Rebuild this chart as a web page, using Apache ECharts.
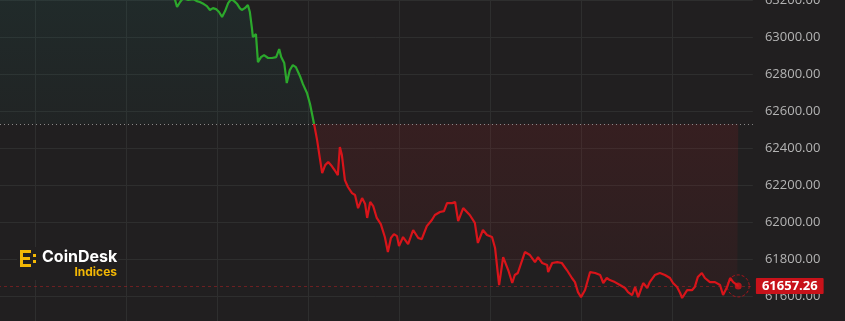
<!DOCTYPE html>
<html>
<head>
<meta charset="utf-8">
<script src="https://cdn.jsdelivr.net/npm/echarts@6/dist/echarts.min.js"></script>
<style>
html,body{margin:0;padding:0;background:#211f20;}
#chart{width:845px;height:321px;}
</style>
</head>
<body>
<div id="chart"></div>
<script>
// minutes since window start (x position of each sample)
const times = [
  110,135,160,185,210,235,260,285,310,335,360,385,410,435,
  451,457,461,467,473,483,493,500,506,514,
  520,526,532,538,544,550,556,562,568,574,
  580,585,589,595,601,605,609,611,617,621,
  627,633,641,649,657,663,667,673,678,684,
  690,696,704,710,718,724,728,732,738,744,
  748,754,760,767,775,779,783,787,793,799,
  807,813,819,827,833,837,843,849,856,864,
  872,878,884,890,896,900,908,918,928,938,
  945,955,965,971,981,989,995,1005,1011,1017,
  1027,1040,1050,1056,1066,1074,1084,1090,1098,1106,
  1116,1124,1129,1135,1149,1159,1169,1175,1183,1193,
  1195,1203,1213,1222,1232,1242,1248,1254,1260,1268,
  1278,1288,1298,1304,1311,1317,1327,1337,1347,1353,
  1361,1367,1373,1383,1391,1396,1406,1416,1426,1436,
  1442,1450,1456,1460,1470,1480,1485,1491,1499,1505,
  1515,1525,1535,1541,1549,1555,1561,1569,1571
];
const prices = [
  63380,63410,63360,63390,63420,63370,63340,63360,63330,63300,63320,63280,63260,63240,
  63227,63200,63162,63189,63210,63200,63205,63194,63189,63178,
  63167,63146,63156,63151,63135,63108,63140,63183,63205,63194,
  63178,63156,63146,63156,63173,63135,63049,63000,63016,62865,
  62892,62903,62887,62887,62892,62935,62892,62860,62752,62822,
  62849,62838,62790,62746,62698,62639,62585,62531,62444,62336,
  62266,62309,62326,62304,62272,62255,62407,62363,62228,62191,
  62158,62148,62077,62131,62099,62024,62110,62088,62024,61991,
  61921,61840,61916,61937,61926,61872,61921,61883,61959,61916,
  61910,61980,62013,62040,62056,62061,62104,62104,62110,62007,
  62077,62040,61997,61889,61959,61932,61921,61862,61662,61813,
  61743,61673,61716,61727,61840,61824,61786,61813,61781,61770,
  61732,61781,61786,61781,61743,61700,61678,61624,61597,61635,
  61732,61727,61716,61673,61700,61689,61678,61662,61646,61624,
  61608,61651,61597,61673,61646,61678,61716,61727,61716,61700,
  61673,61651,61619,61592,61635,61635,61651,61705,61727,61700,
  61678,61678,61662,61608,61651,61700,61678,61662,61657.26
];
const baseline = 62531;          // previous close reference level
const yTicks = [61400, 63200, 200]; // min, max, step

const n = Math.min(times.length, prices.length);
let cross = n - 1;
for (let i = 0; i < n; i++) { if (prices[i] <= baseline) { cross = i; break; } }
const greenLine = [], redLine = [], greenArea = [], redArea = [];
for (let i = 0; i < n; i++) {
  const p = [times[i], prices[i]];
  greenLine.push(i <= cross ? p : [times[i], null]);
  redLine.push(i >= cross ? p : [times[i], null]);
  greenArea.push([times[i], Math.max(prices[i], baseline)]);
  redArea.push([times[i], Math.min(prices[i], baseline)]);
}
const last = [times[n - 1], prices[n - 1]];

const gold = '#f2b705';
const iconRects = [[0,0,3,17],[0,0,11,3],[0,14,11,3],[3,7,7,3],[13,4,3,3],[13,10,3,3]];

const chart = echarts.init(document.getElementById('chart'), null, {renderer: 'canvas'});
chart.setOption({
  backgroundColor: '#211f20',
  animation: false,
  grid: {left: -56, right: 92.1, top: 0, bottom: -12.6, containLabel: false, outerBoundsMode: 'none'},
  xAxis: {
    type: 'value', min: 0, max: 1600, interval: 180,
    axisLabel: {show: false}, axisTick: {show: false}, axisLine: {show: false},
    splitLine: {show: true, showMaxLine: false, lineStyle: {color: '#2e2e2e', width: 1}}
  },
  yAxis: {
    type: 'value', position: 'right', min: yTicks[0], max: yTicks[1], interval: yTicks[2],
    axisLine: {show: false}, axisTick: {show: false},
    axisLabel: {
      color: '#b4b4b4', fontSize: 13, fontFamily: 'Open Sans', margin: 12,
      formatter: v => v.toFixed(2)
    },
    splitLine: {lineStyle: {color: '#2e2e2e', width: 1}}
  },
  series: [
    {
      type: 'line', data: greenArea, showSymbol: false, silent: true, clip: true,
      lineStyle: {width: 0},
      areaStyle: {
        origin: baseline,
        color: new echarts.graphic.LinearGradient(0, 0, 0, 1, [
          {offset: 0, color: 'rgba(30,120,110,0.22)'},
          {offset: 1, color: 'rgba(30,120,110,0.08)'}
        ])
      },
      z: 1
    },
    {
      type: 'line', data: redArea, showSymbol: false, silent: true, clip: true,
      lineStyle: {width: 0},
      areaStyle: {
        origin: baseline,
        color: new echarts.graphic.LinearGradient(0, 0, 0, 1, [
          {offset: 0, color: 'rgba(170,30,35,0.22)'},
          {offset: 1, color: 'rgba(170,30,35,0.10)'}
        ])
      },
      z: 1
    },
    {
      type: 'line', data: greenLine, showSymbol: false, clip: true, connectNulls: false,
      lineStyle: {width: 2.2, color: '#2ca82c'}, itemStyle: {color: '#2ca82c'},
      z: 3
    },
    {
      type: 'line', data: redLine, showSymbol: false, clip: true, connectNulls: false,
      lineStyle: {width: 2.2, color: '#d8141a'}, itemStyle: {color: '#d8141a'},
      z: 3,
      markLine: {
        silent: true, symbol: 'none', animation: false,
        data: [
          {
            yAxis: baseline,
            lineStyle: {color: '#8a8a8a', type: [1, 3], width: 1},
            label: {show: false}
          },
          {
            yAxis: last[1],
            lineStyle: {color: 'rgba(200,30,35,0.45)', type: [3, 3], width: 1},
            label: {
              show: true, position: 'end', distance: 3,
              formatter: () => last[1].toFixed(2),
              color: '#ffffff', fontSize: 13, fontWeight: 'bold', fontFamily: 'Open Sans',
              backgroundColor: '#c8121a', padding: [2, 6, 1, 6], borderRadius: 1
            }
          }
        ]
      }
    },
    {
      type: 'scatter', data: [last], symbolSize: 22, silent: true, z: 4,
      itemStyle: {color: 'rgba(0,0,0,0)', borderColor: '#c8121a', borderWidth: 1, borderType: [3, 2], opacity: 0.8}
    },
    {
      type: 'scatter', data: [last], symbolSize: 7, silent: true, z: 5,
      itemStyle: {color: '#d8141a'}
    }
  ],
  graphic: [
    {
      type: 'rect', left: 17, top: 247, silent: true, z: 10,
      shape: {width: 101, height: 33}, style: {fill: '#211f20'}
    },
    ...iconRects.map(r => ({
      type: 'rect', left: 20 + r[0], top: 250 + r[1], silent: true, z: 12,
      shape: {width: r[2], height: r[3]}, style: {fill: gold}
    })),
    {
      type: 'text', left: 42, top: 249, silent: true, z: 12,
      style: {text: 'CoinDesk', fill: '#ffffff', font: 'bold 16px Inter'}
    },
    {
      type: 'text', right: 728, top: 266, silent: true, z: 12,
      style: {text: 'Indices', fill: gold, font: 'bold 12px Inter'}
    }
  ]
});
</script>
</body>
</html>
